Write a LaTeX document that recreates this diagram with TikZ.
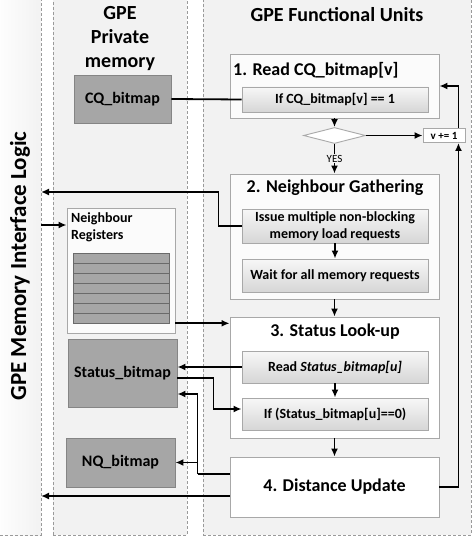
\documentclass[tikz,border=0pt]{standalone}
\usepackage{fontspec}
\setmainfont{Carlito}
\usepackage{tikz}
\usetikzlibrary{shapes,arrows,arrows.meta,calc}
\definecolor{regfill}{HTML}{F2F2F2}
\definecolor{dashgray}{HTML}{9A9A9A}
\definecolor{boxgray}{HTML}{A8A8A8}
\definecolor{subtop}{HTML}{F7F7F7}
\definecolor{subbot}{HTML}{D6D6D6}
\definecolor{memfill}{HTML}{A6A6A6}
\definecolor{memline}{HTML}{858585}
\tikzset{reg/.style={draw=dashgray,dash pattern=on 3pt off 2pt,fill=regfill,line width=.8pt,inner sep=0pt},
blk/.style={draw=boxgray,fill=white!97!gray,line width=.9pt,inner sep=0pt},
sub/.style={draw=boxgray,top color=subtop,bottom color=subbot,line width=.9pt,inner sep=0pt,align=center,font=\fontsize{14}{17}\selectfont\bfseries},
mem/.style={draw=memline,fill=memfill,line width=.9pt,inner sep=0pt,font=\fontsize{16}{18}\selectfont\bfseries},
row/.style={draw=memline!80!black,fill=memfill,line width=.6pt,inner sep=0pt,minimum width=96pt,minimum height=10pt},
hdr/.style={align=center,font=\fontsize{20}{24}\selectfont\bfseries},
ttl/.style={inner sep=0pt,font=\fontsize{18}{21}\selectfont\bfseries},
ln/.style={line width=1.8pt},
ar/.style={line width=1.8pt,-{Latex[length=8pt,width=7pt]}}}

\begin{document}
\begin{tikzpicture}[x=1pt,y=-1pt]
\useasboundingbox (0,0) rectangle (474,537);
% regions
\node[reg,left color=white,right color=regfill,minimum width=46pt,minimum height=540pt] (lreg) at (18,265) {};
\node[reg,minimum width=134pt,minimum height=540pt] (mreg) at (120,265) {};
\node[reg,minimum width=268pt,minimum height=540pt] (rreg) at (337,265) {};
\node[hdr,rotate=90,font=\fontsize{23}{26}\selectfont\bfseries] (gml) at (20,266) {GPE Memory Interface Logic};
\node[hdr] (gpm) at (120,39) {GPE\\Private\\memory};
\node[hdr] (gfu) at (337,15) {GPE Functional Units};
% private memory
\node[mem,minimum width=97pt,minimum height=48pt] (cq) at (122.5,99) {CQ\_bitmap};
\node[blk,minimum width=108pt,minimum height=125pt] (nr) at (121,270.5) {};
\node[anchor=north west,inner sep=0pt,align=left,font=\fontsize{14}{17}\selectfont\bfseries] (nrt) at (71,212) {Neighbour\\Registers};
\foreach \i in {0,...,6}
  \node[row] (row\i) at (121,258+10*\i) {};
\node[mem,minimum width=109pt,minimum height=68pt] (sb) at (122.5,373) {Status\_bitmap};
\node[mem,minimum width=109pt,minimum height=49pt] (nq) at (120.5,462.5) {NQ\_bitmap};
% functional units
\node[blk,minimum width=209pt,minimum height=64pt] (r1) at (334.5,86) {};
\node[ttl,anchor=west] (t1) at (233,70) {1. Read CQ\_bitmap[v]};
\node[sub,minimum width=186pt,minimum height=25pt] (r1in) at (335,99.5) {If CQ\_bitmap[v] == 1};
\node[diamond,draw=boxgray,fill=white,line width=.9pt,inner sep=0pt,minimum width=62pt,minimum height=16pt] (dia) at (334.5,135.5) {};
\node[blk,fill=white,minimum width=42pt,minimum height=14pt,font=\fontsize{11}{13}\selectfont\bfseries] (vinc) at (444,135.5) {v += 1};
\node[blk,minimum width=209pt,minimum height=125pt] (r2) at (334.5,236.5) {};
\node[ttl] (t2) at (335,188) {2. Neighbour Gathering};
\node[sub,minimum width=186pt,minimum height=34pt] (r2a) at (335,226) {Issue multiple non-blocking\\memory load requests};
\node[sub,minimum width=186pt,minimum height=33pt] (r2b) at (335,275.5) {Wait for all memory requests};
\node[blk,fill=white,minimum width=209pt,minimum height=121pt] (r3) at (334.5,377.5) {};
\node[ttl] (t3) at (335,332) {3. Status Look-up};
\node[sub,minimum width=186pt,minimum height=32pt] (r3a) at (335,367) {Read \textit{Status\_bitmap[u]}};
\node[sub,minimum width=186pt,minimum height=32pt] (r3b) at (335,414) {If (Status\_bitmap[u]==0)};
\node[blk,fill=white,minimum width=209pt,minimum height=60pt,font=\fontsize{18}{21}\selectfont\bfseries] (r4) at (334.5,487) {4. Distance Update};
\coordinate (gin) at (41,225);
\coordinate (gout1) at (41,192);
\coordinate (gout2) at (41,496);
% connectors
\draw[ln] (cq.east) -- (r1in.west);
\draw[ar] (r1) -- (dia);
\draw[ar] (dia) -- (vinc);
\draw[ar] ($(vinc.north east)+(-7,0)$) |- (r1.east);
\draw[ar] (r4.east) -| ($(vinc.south east)+(-7,0)$);
\draw[ar] (dia) -- node[fill=regfill,inner sep=1pt,font=\fontsize{11}{13}\selectfont] (yes) {YES} (r2);
\draw[ar] (r2a) -- (r2b);
\draw[ar] (r2) -- (r3);
\draw[ar] (r3a) -- (r3b);
\draw[ar] (r3) -- (r4);
\draw[ar] (r2a.west) -- ++(-23,0) |- (gout1);
\draw[ar] (gin) -- (gin -| nr.west);
\draw[ar] (row6.south -| nr.east) -- (row6.south -| r3.west);
\draw[ar] (r3a.west) -- (r3a.west -| sb.east);
\draw[ar] ($(sb.east)+(0,5)$) -- ++(36,0) |- ($(r3b.west)+(0,-5)$);
\draw[ln] ($(r4.west)+(0,-13)$) -- ++(-32,0) coordinate (br);
\draw[ar] (br) |- ($(sb.east)+(0,21)$);
\draw[ar] (br |- nq.east) -- (nq.east);
\draw[ar] ($(r4.west)+(0,9)$) -- (gout2);
\end{tikzpicture}
\end{document}
